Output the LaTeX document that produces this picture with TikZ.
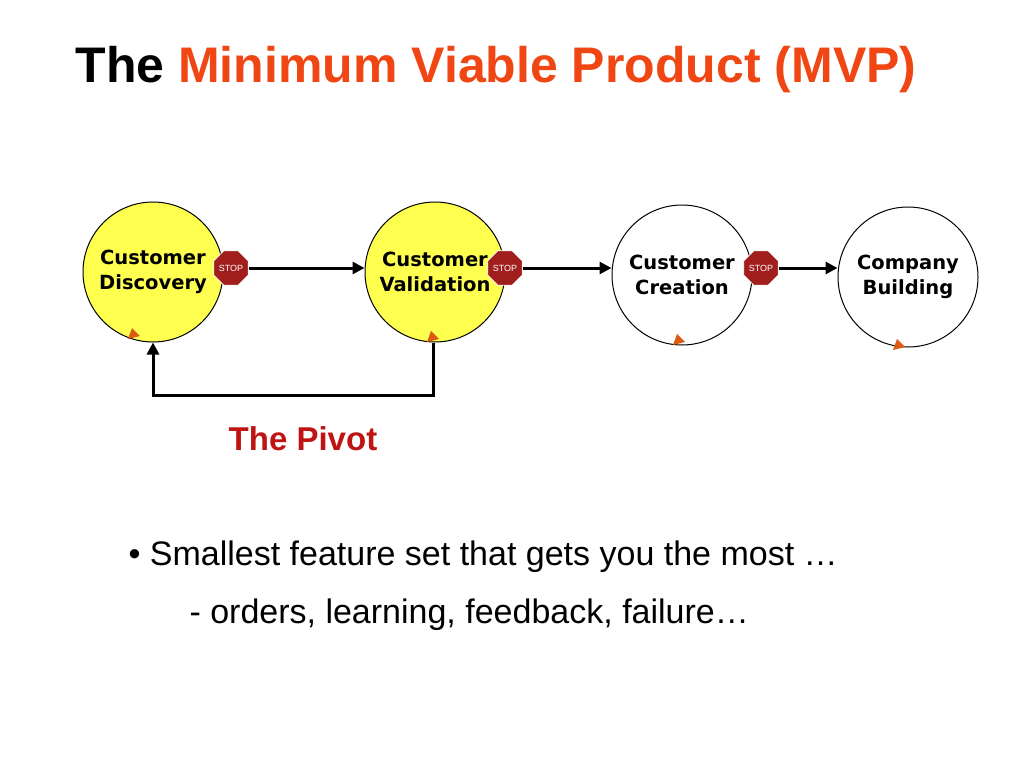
\documentclass[tikz,border=0pt]{standalone}
\usepackage{fontspec}
\setmainfont{Liberation Sans}
\newfontfamily\dv{DejaVu Sans}
\usetikzlibrary{shapes.geometric,arrows.meta}
\definecolor{ttl}{RGB}{240,70,20}
\definecolor{piv}{RGB}{190,20,20}
\definecolor{cyel}{RGB}{255,255,80}
\definecolor{stopc}{RGB}{160,30,30}
\definecolor{tri}{RGB}{220,90,20}
\tikzset{
 stage/.style={circle,draw,line width=1pt,minimum size=140pt,align=center,font=\dv\bfseries\fontsize{19.5}{25}\selectfont,inner sep=0pt},
 stopsign/.style={regular polygon,regular polygon sides=8,fill=stopc,draw=white,line width=0.6pt,minimum size=26pt,inner sep=0pt,text=white,font=\fontsize{9}{9}\selectfont},
 conn/.style={line width=3pt,-{Triangle[length=12pt,width=12pt]}},
 tip/.style={fill=tri}
}
\begin{document}
\begin{tikzpicture}[x=1pt,y=-1pt]
\useasboundingbox (0,0) rectangle (1024,768);
\node[anchor=west,font=\bfseries\fontsize{50}{56}\selectfont] (title) at (72,70) {The \textcolor{ttl}{Minimum Viable Product (MVP)}};
\node[stage,fill=cyel] (cd) at (153,272) {Customer\\Discovery};
\node[stage,fill=cyel] (cv) at (435,272) {Customer\\Validation};
\node[stage] (cc) at (682,275) {Customer\\Creation};
\node[stage] (cb) at (908,277) {Company\\Building};
\node[stopsign] (s1) at (231,268) {STOP};
\node[stopsign] (s2) at (505,268) {STOP};
\node[stopsign] (s3) at (761,268) {STOP};
\draw[conn] (s1.east) -- (cv.west |- s1.east);
\draw[conn] (s2.east) -- (cc.west |- s2.east);
\draw[conn] (s3.east) -- (cb.west |- s3.east);
\coordinate (pa) at (433,395);
\coordinate (pb) at (153,395);
\draw[conn] (cv.south -| pa) -- (pa) -- (pb) -- (cd.south);
\foreach \p in {(133,335),(432,338),(678,341),(898,346)}{
 \fill[tip] \p ++(-5,4) -- ++(12,-3) -- ++(-8,-8) -- cycle;}
\node[text=piv,font=\bfseries\fontsize{33}{38}\selectfont] (pivot) at (303,439) {The Pivot};
\node[anchor=west,font=\fontsize{34}{38}\selectfont] (b1) at (125,557) {\textbullet\ Smallest feature set that gets you the most …};
\node[anchor=west,font=\fontsize{34}{38}\selectfont] (b2) at (186,615) {- orders, learning, feedback, failure…};
\end{tikzpicture}
\end{document}
